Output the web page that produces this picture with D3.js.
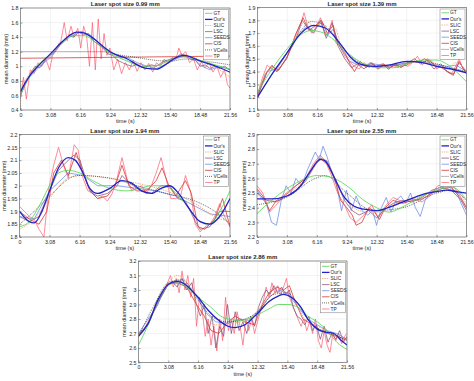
<!DOCTYPE html>
<html><head><meta charset="utf-8">
<script src="https://cdn.jsdelivr.net/npm/d3@7"></script>
<style>body{margin:0;background:#fff} svg{display:block} text{font-family:"Liberation Sans",Arial,sans-serif;fill:#262626}</style>
</head><body>
<svg id="c" width="474" height="381"></svg>
<script>
const seriesNames = ["GT","Our's","SLIC","LSC","SEEDS","CIS","VCells","TP"];
const xTicks = [0,3.08,6.16,9.24,12.32,15.40,18.48,21.56];
const xTickLabels = ["0","3.08","6.16","9.24","12.32","15.40","18.48","21.56"];
const titles = ["Laser spot size 0.99 mm","Laser spot size 1.39 mm","Laser spot size 1.94 mm","Laser spot size 2.55 mm","Laser spot size 2.86 mm"];
const yTicks1 = [0.4,0.6,0.8,1,1.2,1.4,1.6,1.8];
const yTicks2 = [1.1,1.2,1.3,1.4,1.5,1.6,1.7,1.8,1.9];
const yTicks3 = [1.8,1.85,1.9,1.95,2,2.05,2.1,2.15,2.2];
const yTicks4 = [2.2,2.3,2.4,2.5,2.6,2.7,2.8,2.9];
const yTicks5 = [2.5,2.6,2.7,2.8,2.9,3,3.1,3.2];

// ---- Panel 1 (0.99 mm)
const gt1 = [[0,0.62],[1,0.88],[2,1.04],[3.08,1.17],[4.5,1.35],[5.5,1.42],[6.5,1.42],[8,1.3],[9.24,1.18],[11,1.07],[12.5,1.0],[14,1.01],[15.5,1.09],[16.5,1.13],[18,1.1],[19.5,1.04],[21.56,0.96]];
const ours1 = [[0,0.65],[0.5,0.78],[1,0.88],[1.5,0.96],[2,1.03],[3.08,1.17],[4,1.3],[5,1.42],[5.8,1.47],[6.5,1.46],[7.2,1.41],[8,1.33],[8.8,1.24],[9.24,1.2],[10,1.15],[11,1.1],[12,1.02],[13,0.97],[14,0.96],[15,1.03],[16,1.12],[16.8,1.15],[17.5,1.13],[18.5,1.07],[19.5,1.03],[20.5,0.98],[21.56,0.92]];
const slic1 = [[0,0.72],[1.5,0.98],[3.08,1.15],[4.5,1.35],[5.8,1.45],[6.8,1.44],[8,1.33],[9.24,1.2],[10.5,1.1],[12,1.04],[13.5,1.0],[15,1.06],[16.5,1.14],[17.5,1.13],[19,1.05],[20.5,0.95],[21.56,0.85]];
const lsc1 = [[0,0.6],[0.5,0.75],[1,0.9],[1.5,1.0],[2,0.98],[2.5,1.08],[3.08,1.15],[3.5,1.2],[4,1.32],[4.5,1.35],[5,1.42],[5.5,1.4],[6,1.47],[6.5,1.43],[7,1.45],[7.5,1.35],[8,1.3],[8.5,1.25],[9,1.17],[9.5,1.15],[10,1.08],[10.5,1.05],[11,1.02],[11.5,1.0],[12,1.03],[12.5,0.98],[13,1.0],[13.5,1.02],[14,1.0],[14.5,1.05],[15,1.08],[15.5,1.1],[16,1.12],[16.5,1.17],[17,1.15],[17.5,1.1],[18,1.08],[18.5,1.0],[19,1.02],[19.5,0.97],[20,1.0],[20.5,0.97],[21,1.0],[21.56,0.95]];
const seeds1 = [[0,0.66],[1,0.86],[2,1.0],[3.08,1.12],[4,1.28],[5,1.4],[6.3,1.48],[7.3,1.42],[8.5,1.25],[9.5,1.17],[11,1.12],[12,1.05],[13,1.0],[14,0.97],[15,1.03],[16,1.1],[17,1.15],[18,1.08],[18.7,1.0],[19.5,0.95],[20.5,1.0],[21.56,0.95]];
const cis1 = [[0,1.11],[21.56,1.14]];
const vcells1 = [[0,1.2],[8.5,1.2],[10,1.16],[12,1.12],[14,1.08],[15.4,1.07],[17,1.1],[19,1.07],[21.56,1.02]];
const tp1 = [[0,0.55],[0.3,0.85],[0.6,0.55],[1,0.95],[1.4,0.9],[1.8,1.05],[2.2,1.0],[2.6,1.1],[3,0.95],[3.3,1.15],[3.7,1.22],[4.1,1.3],[4.5,1.6],[4.8,1.35],[5.2,1.55],[5.5,1.4],[5.9,1.52],[6.2,1.25],[6.5,1.55],[6.8,1.42],[7.1,1.0],[7.4,1.6],[7.7,0.95],[8,1.65],[8.3,1.1],[8.6,1.45],[8.9,1.15],[9.2,1.25],[9.6,0.95],[10,1.1],[10.4,0.9],[10.8,1.05],[11.2,0.95],[11.6,1.08],[12,0.93],[12.4,1.05],[12.8,0.95],[13.2,1.04],[13.6,0.92],[14,1.05],[14.4,1.0],[14.8,1.1],[15.2,1.04],[15.6,1.12],[16,1.1],[16.3,1.25],[16.6,1.15],[17,1.2],[17.4,1.05],[17.8,1.1],[18.2,0.95],[18.6,1.06],[19,0.98],[19.4,1.05],[19.8,0.92],[20.2,1.0],[20.6,0.85],[21,0.95],[21.3,0.75],[21.56,0.7]];

// ---- Panel 2 (1.39 mm)
const gt2 = [[0,1.24],[1.5,1.42],[3.08,1.58],[4.5,1.69],[5.5,1.72],[6.5,1.71],[8,1.64],[9.24,1.55],[10.5,1.48],[12.32,1.43],[14,1.43],[15.4,1.46],[17,1.49],[18.5,1.49],[19.5,1.46],[20.5,1.4],[21.56,1.32]];
const ours2 = [[0,1.2],[1.5,1.38],[3.08,1.55],[4.5,1.7],[5.8,1.76],[7,1.74],[8.5,1.62],[9.5,1.52],[10.5,1.46],[12,1.44],[13.5,1.45],[15.4,1.48],[17,1.47],[18.5,1.44],[20,1.42],[21.56,1.39]];
const slic2 = [[0,1.22],[1,1.4],[2,1.43],[3.08,1.55],[4,1.68],[5,1.8],[6,1.74],[6.6,1.8],[7.3,1.7],[8,1.74],[8.6,1.6],[9.5,1.5],[10.5,1.44],[11.5,1.46],[12.5,1.43],[13.5,1.45],[14.5,1.44],[15.5,1.46],[16.5,1.48],[17.5,1.47],[18.5,1.45],[19.5,1.42],[20.5,1.47],[21.56,1.4]];
const lsc2 = [[0,1.21],[0.8,1.38],[1.5,1.44],[2.2,1.41],[3.08,1.52],[4,1.66],[4.6,1.8],[5.2,1.74],[5.8,1.7],[6.5,1.8],[7.1,1.66],[7.7,1.78],[8.3,1.6],[9,1.5],[9.7,1.43],[10.3,1.46],[11,1.42],[11.6,1.47],[12.2,1.44],[12.9,1.46],[13.5,1.42],[14.2,1.46],[14.8,1.43],[15.5,1.47],[16.2,1.5],[16.8,1.46],[17.5,1.49],[18.2,1.42],[18.9,1.46],[19.6,1.4],[20.2,1.38],[20.8,1.47],[21.56,1.4]];
const seeds2 = [[0,1.22],[1,1.4],[2,1.42],[3.08,1.55],[4,1.66],[5,1.75],[5.8,1.72],[6.5,1.78],[7.2,1.68],[7.8,1.73],[8.6,1.58],[9.5,1.48],[10.5,1.45],[12,1.46],[13.5,1.44],[15,1.46],[16.5,1.48],[18,1.46],[19.5,1.44],[20.5,1.45],[21.56,1.4]];
const cis2 = [[0,1.2],[1,1.4],[1.5,1.45],[2,1.4],[3,1.5],[4,1.7],[4.7,1.82],[5.3,1.72],[6,1.76],[6.6,1.8],[7.2,1.7],[7.8,1.76],[8.3,1.62],[9,1.55],[9.6,1.45],[10,1.4],[10.6,1.48],[11.2,1.43],[11.8,1.47],[12.4,1.42],[13,1.46],[13.6,1.43],[14.2,1.45],[14.8,1.44],[15.4,1.45],[16,1.48],[16.6,1.47],[17.2,1.5],[17.8,1.48],[18.4,1.44],[19,1.43],[19.6,1.4],[20.2,1.37],[20.8,1.48],[21.56,1.38]];
const vcells2 = [[0,1.2],[1.5,1.38],[3.08,1.55],[4.5,1.72],[5.5,1.79],[6.5,1.78],[7.5,1.72],[8.5,1.62],[9.24,1.55],[10.5,1.47],[12,1.44],[14,1.45],[15.4,1.47],[17,1.48],[18.5,1.46],[20,1.43],[21.56,1.4]];
const tp2 = [[0,1.22],[0.5,1.35],[1,1.45],[1.5,1.42],[2,1.4],[2.5,1.45],[3,1.5],[3.5,1.6],[4,1.7],[4.5,1.78],[4.8,1.86],[5.2,1.75],[5.6,1.7],[6,1.74],[6.5,1.82],[7,1.68],[7.3,1.7],[7.7,1.8],[8.1,1.62],[8.5,1.6],[9,1.52],[9.5,1.48],[10,1.44],[10.5,1.42],[11,1.47],[11.5,1.43],[12,1.46],[12.5,1.42],[13,1.45],[13.5,1.42],[14,1.45],[14.5,1.43],[15,1.46],[15.5,1.44],[16,1.47],[16.5,1.52],[17,1.45],[17.5,1.5],[18,1.48],[18.5,1.42],[19,1.45],[19.5,1.4],[20,1.38],[20.5,1.45],[20.8,1.5],[21.2,1.42],[21.56,1.4]];

// ---- Panel 3 (1.94 mm)
const gt3 = [[0,1.84],[1,1.86],[2,1.92],[3.08,2.0],[4,2.05],[5,2.06],[6.16,2.05],[7.5,2.02],[9.24,1.99],[11,1.98],[12.32,1.99],[13.5,2.0],[14.5,2.0],[15.4,1.99],[17,1.93],[18.5,1.86],[19.5,1.85],[20.5,1.9],[21.56,1.98]];
const ours3 = [[0,1.9],[1,1.86],[1.5,1.855],[2.3,1.9],[3.08,1.98],[4,2.07],[5,2.11],[5.7,2.1],[6.5,2.05],[7.2,1.99],[8,1.97],[9.24,1.99],[10.5,2.02],[11.5,2.01],[12.5,1.98],[13.5,1.97],[14.5,1.99],[15.4,2.0],[16.3,1.97],[17.2,1.92],[18.5,1.86],[19.5,1.85],[20.5,1.88],[21.56,1.95]];
const slic3 = [[0,1.83],[1.5,1.87],[3.08,1.95],[5,2.03],[6.5,2.04],[9,2.03],[12,2.01],[15,1.98],[18,1.93],[20,1.88],[21.56,1.86]];
const lsc3 = [[0,1.88],[1,1.86],[2,1.88],[3.08,1.98],[4,2.06],[5,2.1],[5.6,2.12],[6.2,2.1],[7,2.0],[7.5,1.97],[8,1.96],[9,1.97],[10,2.0],[10.5,2.04],[11,2.02],[12,1.99],[12.5,1.98],[13.5,1.97],[14.5,2.0],[15.4,2.0],[16.2,1.95],[17,1.94],[18,1.86],[18.5,1.83],[19.5,1.84],[20.5,1.9],[21.56,1.9]];
const seeds3 = [[0,1.88],[1.5,1.87],[3.08,1.98],[5,2.05],[6.5,2.04],[8,2.0],[10,2.0],[12,1.99],[14,1.98],[16,1.96],[18,1.92],[19.5,1.89],[21.56,1.88]];
const cis3 = [[0,1.9],[1,1.87],[2,1.85],[2.8,1.9],[3.5,2.05],[4.3,2.1],[5,2.04],[5.8,2.13],[6.5,2.05],[7.2,1.98],[8,1.95],[9,1.96],[9.8,2.0],[10.5,2.08],[11.2,2.0],[12,1.98],[13,1.98],[14,2.02],[14.6,2.07],[15.3,2.0],[16,1.96],[17,2.02],[17.6,1.97],[18.3,1.84],[19,1.83],[20,1.87],[20.8,1.95],[21.56,1.84]];
const vcells3 = [[0,1.85],[1.5,1.9],[3.08,1.96],[6,2.04],[9.24,2.03],[12,2.0],[15,1.97],[18,1.94],[20,1.9],[21.56,1.85]];
const tp3 = [[0,1.92],[0.5,1.9],[1,1.88],[1.5,1.87],[2,1.83],[2.5,1.8],[3,1.99],[3.5,2.08],[4,2.15],[4.5,2.08],[5,2.03],[5.6,2.16],[6,2.14],[6.5,2.03],[7,1.98],[7.5,1.97],[8,1.95],[8.5,1.96],[9,1.94],[9.5,1.97],[10,2.03],[10.5,2.11],[11,2.03],[11.5,1.98],[12,1.99],[12.5,2.0],[13,1.97],[13.5,2.0],[14,2.05],[14.5,2.11],[15,2.03],[15.5,1.95],[16,1.95],[16.5,1.96],[17,2.04],[17.5,1.98],[18,1.85],[18.5,1.82],[19,1.84],[19.5,1.85],[20,1.88],[20.5,1.93],[21,1.88],[21.56,1.84]];

// ---- Panel 4 (2.55 mm)
const gt4 = [[0,2.36],[1.5,2.45],[3.08,2.53],[5,2.6],[6.16,2.62],[7.5,2.61],[9.24,2.55],[11,2.45],[12.32,2.4],[13.5,2.37],[15.4,2.42],[17,2.48],[18.5,2.52],[20,2.54],[21,2.5],[21.56,2.45]];
const ours4 = [[0,2.46],[1.5,2.46],[3.08,2.48],[4.5,2.55],[5.5,2.65],[6.5,2.73],[7,2.72],[8,2.6],[9,2.47],[10,2.41],[11,2.39],[12.32,2.38],[13.5,2.4],[15.4,2.45],[17,2.49],[18.5,2.51],[19.5,2.52],[20.5,2.51],[21.56,2.5]];
const slic4 = [[0,2.5],[1,2.44],[2,2.46],[3.08,2.5],[4.5,2.56],[5.5,2.64],[6.5,2.74],[7.5,2.68],[8.5,2.52],[9.5,2.43],[10.5,2.38],[11.5,2.37],[12.5,2.37],[14,2.42],[15.5,2.45],[17,2.48],[18.5,2.53],[19.5,2.55],[20.5,2.53],[21.56,2.42]];
const lsc4 = [[0,2.5],[1,2.45],[2,2.44],[3.08,2.48],[4,2.52],[5,2.58],[5.8,2.67],[6.5,2.74],[7.2,2.72],[8,2.6],[9,2.45],[9.8,2.38],[10.5,2.35],[11.5,2.38],[12.32,2.33],[13,2.38],[14,2.43],[15,2.45],[16,2.44],[17,2.47],[18,2.52],[19,2.54],[20,2.52],[21,2.45],[21.56,2.38]];
const seeds4 = [[0,2.52],[1,2.42],[1.5,2.3],[2,2.28],[2.5,2.45],[3,2.55],[3.5,2.5],[4,2.6],[4.6,2.55],[5.2,2.66],[5.6,2.72],[6,2.78],[6.4,2.73],[6.8,2.82],[7.2,2.75],[7.8,2.62],[8.2,2.55],[8.7,2.38],[9.2,2.52],[9.7,2.38],[10.2,2.48],[10.8,2.38],[11.4,2.35],[11.9,2.38],[12.3,2.28],[12.8,2.4],[13.3,2.47],[13.8,2.37],[14.3,2.45],[14.8,2.48],[15.3,2.43],[15.8,2.5],[16.3,2.4],[16.8,2.34],[17.3,2.45],[17.8,2.5],[18.3,2.52],[18.8,2.54],[19.5,2.55],[20,2.53],[20.6,2.5],[21,2.43],[21.56,2.35]];
const cis4 = [[0,2.53],[0.6,2.48],[1.3,2.38],[2,2.45],[2.6,2.47],[3.2,2.5],[4,2.55],[5,2.6],[6,2.7],[6.6,2.73],[7.2,2.7],[8,2.6],[8.6,2.45],[9.24,2.4],[9.8,2.35],[10.2,2.28],[10.8,2.3],[11.5,2.4],[12,2.38],[12.6,2.32],[13.2,2.4],[14,2.45],[15,2.43],[16,2.45],[17,2.46],[18,2.5],[19,2.53],[20,2.54],[21,2.46],[21.56,2.4]];
const vcells4 = [[0,2.42],[3,2.47],[6,2.6],[7,2.62],[9.24,2.5],[12,2.38],[15,2.4],[18.5,2.5],[20,2.52],[21.56,2.45]];
const tp4 = [[0,2.55],[0.6,2.5],[1.3,2.37],[2,2.42],[3,2.5],[4,2.55],[5,2.6],[5.8,2.7],[6.5,2.76],[7,2.72],[7.6,2.63],[8.3,2.5],[9,2.42],[9.6,2.33],[10.2,2.3],[11,2.35],[11.8,2.42],[12.5,2.33],[13.3,2.42],[14,2.47],[15,2.44],[16,2.46],[17,2.44],[17.8,2.48],[18.6,2.55],[19.4,2.56],[20.2,2.55],[21,2.47],[21.56,2.4]];

// ---- Panel 5 (2.86 mm)
const gt5 = [[0,2.62],[1,2.76],[2,2.92],[3.08,3.03],[3.8,3.05],[5,3.02],[6.16,2.95],[7.5,2.88],[8.5,2.82],[9.24,2.8],[10.5,2.79],[12.32,2.83],[13.5,2.87],[14.5,2.9],[15.4,2.9],[16.5,2.88],[17.5,2.82],[18.5,2.78],[19.5,2.72],[20.5,2.64],[21.56,2.59]];
const ours5 = [[0,2.68],[1,2.77],[2,2.93],[3.08,3.04],[4,3.06],[4.8,3.04],[5.6,2.99],[6.16,2.95],[7.2,2.86],[8.5,2.78],[9.24,2.75],[10,2.74],[11,2.76],[12.32,2.84],[13.5,2.92],[14.5,2.96],[15,2.97],[15.8,2.95],[16.8,2.88],[17.6,2.79],[18.48,2.73],[19.3,2.71],[20.2,2.7],[21,2.65],[21.56,2.62]];
const slic5 = [[0,2.7],[1,2.78],[2,2.93],[3.08,3.05],[4,3.1],[4.8,3.07],[5.6,2.98],[6.16,2.88],[7,2.8],[8,2.76],[9.24,2.77],[10.5,2.78],[11.5,2.8],[12.32,2.86],[13.5,2.95],[14.5,2.99],[15.4,2.98],[16.3,2.9],[17.2,2.8],[18.48,2.75],[19.5,2.72],[20.5,2.68],[21.56,2.66]];
const lsc5 = [[0,2.7],[0.5,2.73],[1,2.76],[1.5,2.84],[2,2.9],[2.5,2.98],[3,3.03],[3.5,3.06],[4,3.02],[4.5,3.08],[5,3.0],[5.5,3.05],[6,2.9],[6.4,2.82],[6.8,2.9],[7.2,2.7],[7.6,2.82],[8,2.6],[8.4,2.75],[8.8,2.68],[9.2,2.9],[9.6,2.7],[10,2.85],[10.4,2.72],[10.8,2.78],[11.2,2.7],[11.6,2.82],[12,2.75],[12.4,2.88],[12.8,2.95],[13.2,3.0],[13.6,2.97],[14,3.03],[14.4,2.98],[14.8,3.02],[15.2,2.97],[15.6,3.0],[16,2.88],[16.4,2.82],[16.8,2.8],[17.2,2.76],[17.6,2.82],[18,2.72],[18.4,2.76],[18.8,2.66],[19.2,2.75],[19.6,2.64],[20,2.7],[20.4,2.66],[20.8,2.72],[21.2,2.64],[21.56,2.68]];
const seeds5 = [[0,2.7],[1.5,2.85],[3.08,3.04],[4,3.07],[5,3.04],[6,2.96],[7,2.84],[8,2.78],[9.24,2.77],[10.5,2.8],[11.5,2.79],[12.32,2.85],[13.5,2.95],[14.5,3.0],[15.4,2.98],[16.5,2.88],[17.5,2.8],[18.48,2.76],[19.5,2.72],[20.5,2.7],[21.56,2.66]];
const cis5 = [[0,2.68],[1,2.77],[2,2.92],[3.08,3.04],[4,3.05],[5,3.02],[6,2.9],[6.8,2.82],[7.5,2.72],[8.3,2.7],[9.24,2.78],[10,2.82],[11,2.78],[12,2.76],[12.8,2.9],[13.5,2.98],[14.3,3.02],[15,3.0],[15.6,3.03],[16.2,2.92],[17,2.8],[18,2.76],[18.8,2.72],[19.6,2.7],[20.5,2.68],[21.56,2.66]];
const vcells5 = [[0,2.68],[1.5,2.88],[3.08,3.05],[4.5,3.07],[6.16,2.93],[7.5,2.82],[9.24,2.78],[11,2.8],[12.32,2.85],[14,2.97],[15.4,2.98],[16.5,2.9],[17.5,2.8],[18.48,2.74],[20,2.7],[21.56,2.65]];
const tp5 = [[0,2.7],[0.5,2.72],[1,2.78],[1.5,2.85],[2,2.93],[2.5,2.97],[3,3.05],[3.3,3.1],[3.6,3.02],[3.9,3.08],[4.2,2.98],[4.5,3.13],[4.8,3.0],[5.1,3.1],[5.4,2.95],[5.7,3.08],[6,2.75],[6.3,2.95],[6.6,2.85],[6.9,2.68],[7.2,2.8],[7.5,2.62],[7.8,2.75],[8.1,2.58],[8.4,2.8],[8.7,2.65],[9,2.95],[9.3,2.72],[9.6,2.8],[9.9,2.7],[10.2,2.85],[10.5,2.75],[10.8,2.62],[11.1,2.8],[11.4,2.72],[11.7,2.8],[12,2.7],[12.3,2.78],[12.6,2.85],[12.9,2.92],[13.2,3.02],[13.5,2.95],[13.8,3.05],[14.1,2.98],[14.4,3.03],[14.7,2.97],[15,3.02],[15.3,3.08],[15.6,2.95],[15.9,2.9],[16.2,2.85],[16.5,2.8],[16.8,2.75],[17.1,2.8],[17.4,2.72],[17.7,2.78],[18,2.7],[18.3,2.8],[18.6,2.65],[18.9,2.6],[19.2,2.72],[19.5,2.62],[19.8,2.57],[20.1,2.7],[20.4,2.65],[20.7,2.7],[21,2.63],[21.3,2.68],[21.56,2.7]];

// ---- styles & layout
const styles = {
  "GT":    {color:"#4cd64c", w:0.8, dash:null, smooth:true},
  "Our's": {color:"#2222c8", w:1.3, dash:null, smooth:true},
  "SLIC":  {color:"#f0a070", w:0.8, dash:"1.4,1", smooth:true},
  "LSC":   {color:"#7c4a70", w:0.7, dash:null, smooth:false},
  "SEEDS": {color:"#5f82e6", w:0.7, dash:null, smooth:false},
  "CIS":   {color:"#d83a3a", w:0.8, dash:null, smooth:false},
  "VCells":{color:"#333333", w:0.7, dash:"1,1", smooth:true},
  "TP":    {color:"#ff5a6e", w:0.7, dash:null, smooth:false}
};
const drawOrder = ["TP","LSC","SEEDS","CIS","SLIC","VCells","GT","Our's"];

const panels = [
  {box:[20.5,230,8,110], yDomain:[0.4,1.8], yTicks:yTicks1, data:{"GT":gt1,"Our's":ours1,"SLIC":slic1,"LSC":lsc1,"SEEDS":seeds1,"CIS":cis1,"VCells":vcells1,"TP":tp1}, ylabX:6},
  {box:[257.5,466.5,7.5,110], yDomain:[1.1,1.9], yTicks:yTicks2, data:{"GT":gt2,"Our's":ours2,"SLIC":slic2,"LSC":lsc2,"SEEDS":seeds2,"CIS":cis2,"VCells":vcells2,"TP":tp2}, ylabX:247.5},
  {box:[19.5,230,134.5,237], yDomain:[1.8,2.2], yTicks:yTicks3, data:{"GT":gt3,"Our's":ours3,"SLIC":slic3,"LSC":lsc3,"SEEDS":seeds3,"CIS":cis3,"VCells":vcells3,"TP":tp3}, ylabX:3.8},
  {box:[257,466.5,134.5,237], yDomain:[2.2,2.9], yTicks:yTicks4, data:{"GT":gt4,"Our's":ours4,"SLIC":slic4,"LSC":lsc4,"SEEDS":seeds4,"CIS":cis4,"VCells":vcells4,"TP":tp4}, ylabX:244.5},
  {box:[138.5,347,261,362.5], yDomain:[2.5,3.2], yTicks:yTicks5, data:{"GT":gt5,"Our's":ours5,"SLIC":slic5,"LSC":lsc5,"SEEDS":seeds5,"CIS":cis5,"VCells":vcells5,"TP":tp5}, ylabX:124.5}
];

const svg = d3.select("#c");
const fmtY = d => String(+d.toFixed(2));

panels.forEach((p, i) => {
  const [x0,x1,y0,y1] = p.box;
  const x = d3.scaleLinear().domain([0,21.56]).range([x0,x1]);
  const y = d3.scaleLinear().domain(p.yDomain).range([y1,y0]);
  const g = svg.append("g");
  const clipId = "clip"+i;
  g.append("clipPath").attr("id",clipId).append("rect").attr("x",x0).attr("y",y0).attr("width",x1-x0).attr("height",y1-y0);
  g.append("rect").attr("x",x0).attr("y",y0).attr("width",x1-x0).attr("height",y1-y0).attr("fill","#fff");
  // grid
  g.append("g").selectAll("line").data(xTicks).join("line")
    .attr("x1",d=>x(d)).attr("x2",d=>x(d)).attr("y1",y0).attr("y2",y1)
    .attr("stroke","#e6e6e6").attr("stroke-width",0.5);
  g.append("g").selectAll("line").data(p.yTicks).join("line")
    .attr("x1",x0).attr("x2",x1).attr("y1",d=>y(d)).attr("y2",d=>y(d))
    .attr("stroke","#e6e6e6").attr("stroke-width",0.5);
  // series
  const lines = g.append("g").attr("clip-path",`url(#${clipId})`);
  drawOrder.forEach(name => {
    const s = styles[name];
    const line = d3.line().x(d=>x(d[0])).y(d=>y(d[1]))
      .curve(s.smooth ? d3.curveMonotoneX : d3.curveLinear);
    lines.append("path").datum(p.data[name]).attr("d",line)
      .attr("fill","none").attr("stroke",s.color).attr("stroke-width",s.w)
      .attr("stroke-dasharray",s.dash).attr("stroke-linejoin","round");
  });
  // axes
  const xa = d3.axisBottom(x).tickValues(xTicks).tickFormat((d,j)=>xTickLabels[j]).tickSizeInner(-2).tickSizeOuter(0).tickPadding(3);
  const ya = d3.axisLeft(y).tickValues(p.yTicks).tickFormat(fmtY).tickSizeInner(-2).tickSizeOuter(0).tickPadding(2);
  const gx = g.append("g").attr("transform",`translate(0,${y1})`).call(xa);
  const gy = g.append("g").attr("transform",`translate(${x0},0)`).call(ya);
  [gx,gy].forEach(a=>{
    a.select(".domain").remove();
    a.selectAll("line").attr("stroke","#444").attr("stroke-width",0.5);
    a.selectAll("text").attr("font-size",5.3).attr("fill","#262626").attr("font-family","'Liberation Sans',Arial,sans-serif");
  });
  g.append("rect").attr("x",x0).attr("y",y0).attr("width",x1-x0).attr("height",y1-y0)
    .attr("fill","none").attr("stroke","#555").attr("stroke-width",0.6);
  // titles and labels
  g.append("text").attr("x",(x0+x1)/2).attr("y",y0-1.8).attr("text-anchor","middle")
    .attr("font-size",6).attr("font-weight","bold").text(titles[i]);
  g.append("text").attr("x",(x0+x1)/2).attr("y",y1+13).attr("text-anchor","middle")
    .attr("font-size",5.6).text("time (s)");
  g.append("text").attr("transform",`translate(${p.ylabX},${(y0+y1)/2}) rotate(-90)`)
    .attr("text-anchor","middle").attr("dy","0.35em").attr("font-size",5.4).text("mean diameter (mm)");
  // legend
  const lw = 25, rh = 6.1, lx = x1 - lw - 1.5, ly = y0 + 1.5;
  const lg = g.append("g");
  lg.append("rect").attr("x",lx).attr("y",ly).attr("width",lw).attr("height",rh*seriesNames.length+1.5)
    .attr("fill","#fff").attr("stroke","#777").attr("stroke-width",0.5);
  seriesNames.forEach((name,k)=>{
    const s = styles[name];
    const yy = ly + 3.8 + k*rh;
    lg.append("line").attr("x1",lx+1.5).attr("x2",lx+9).attr("y1",yy).attr("y2",yy)
      .attr("stroke",s.color).attr("stroke-width",s.w).attr("stroke-dasharray",s.dash);
    lg.append("text").attr("x",lx+10).attr("y",yy).attr("dy","0.35em").attr("font-size",4.8).text(name);
  });
});
</script>
</body></html>
